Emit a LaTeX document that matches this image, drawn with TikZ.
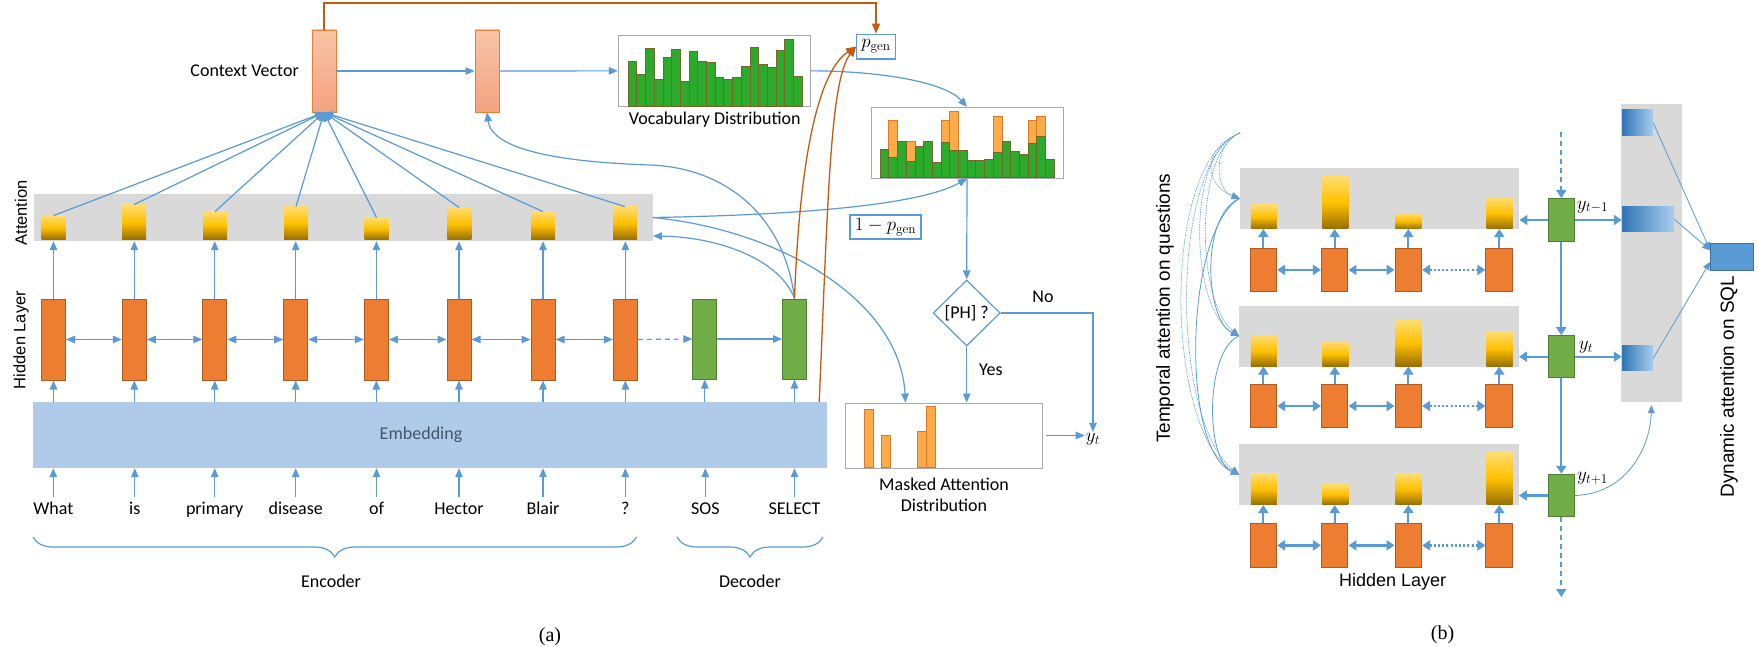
\RequirePackage{fix-cm}
\documentclass[tikz,border=0pt]{standalone}
\usepackage[no-math]{fontspec}
\setmainfont{Carlito}
\newfontfamily\arialf{Liberation Sans}
\newfontfamily\capf{Liberation Serif}
\usetikzlibrary{arrows.meta,shapes.geometric,decorations.pathreplacing}
\definecolor{lblue}{RGB}{91,155,213}
\definecolor{oF}{RGB}{237,125,49}
\definecolor{oD}{RGB}{174,90,33}
\definecolor{gF}{RGB}{112,173,71}
\definecolor{gD}{RGB}{80,126,50}
\definecolor{brn}{RGB}{197,90,17}
\definecolor{gband}{RGB}{217,217,217}
\definecolor{embc}{RGB}{176,203,233}
\definecolor{embt}{RGB}{68,84,106}
\definecolor{peT}{RGB}{248,196,168}
\definecolor{peB}{RGB}{244,162,128}
\definecolor{peD}{RGB}{237,125,49}
\definecolor{yT}{RGB}{255,220,110}
\definecolor{yM}{RGB}{255,192,0}
\definecolor{yB}{RGB}{150,110,0}
\definecolor{vG}{RGB}{44,170,44}
\definecolor{vGd}{RGB}{120,100,40}
\definecolor{vO}{RGB}{251,172,72}
\definecolor{vOd}{RGB}{220,120,40}
\definecolor{sqD}{RGB}{46,117,182}
\definecolor{sqL}{RGB}{170,205,238}
\definecolor{sqF}{RGB}{91,155,213}
\definecolor{sqE}{RGB}{65,113,156}
\definecolor{dgray}{RGB}{170,170,170}
\begin{document}
\begin{tikzpicture}[x=1pt,y=-1pt,
  ln/.style={draw=lblue, line width=1.2pt},
  arr/.style={ln, -{Triangle[length=9pt,width=7.5pt]}},
  arrb/.style={ln, {Triangle[length=9pt,width=7.5pt]}-{Triangle[length=9pt,width=7.5pt]}},
  oarr/.style={draw=brn, line width=1.3pt, -{Triangle[length=10pt,width=8pt]}},
  tarr/.style={draw=lblue, line width=0.8pt, -{Triangle[length=8pt,width=7pt]}},
  tdot/.style={tarr, line width=0.6pt, dash pattern=on 1.5pt off 1pt},
  barr/.style={draw=lblue, line width=2.2pt, -{Triangle[length=8pt,width=10pt]}},
  barrb/.style={draw=lblue, line width=2.2pt, {Triangle[length=8pt,width=10pt]}-{Triangle[length=8pt,width=10pt]}},
  obox/.style={fill=oF, draw=oD, line width=1pt, minimum width=24pt, minimum height=81pt, inner sep=0pt},
  gbox/.style={fill=gF, draw=gD, line width=1pt, minimum width=24pt, minimum height=80pt, inner sep=0pt},
  kbox/.style={fill=oF, draw=oD, line width=1pt, minimum width=26.5pt, minimum height=43.5pt, inner sep=0pt},
  pbox/.style={top color=peT, bottom color=peB, draw=peD, line width=0.8pt, minimum width=24pt, minimum height=82pt, inner sep=0pt},
  abar/.style={top color=yT, bottom color=yB, middle color=yM, draw=none, minimum width=24pt, inner sep=0pt, anchor=south},
  kbar/.style={top color=yT, bottom color=yB, middle color=yM, draw=none, minimum width=26pt, inner sep=0pt, anchor=south},
  vbar/.style={fill=vG, draw=vGd, line width=0.5pt},
  obar/.style={fill=vO, draw=vOd, line width=0.5pt},
  lab/.style={font=\fontsize{18}{21}\selectfont, inner sep=1pt},
  mth/.style={font=\fontsize{19}{22}\selectfont, inner sep=1pt},
  vlab/.style={font=\arialf\fontsize{16.5}{19}\selectfont, rotate=90, inner sep=0pt},
  blab/.style={font=\arialf\fontsize{19}{22}\selectfont, inner sep=0pt},
  band/.style={fill=gband, inner sep=0pt},
  dist/.style={draw=dgray, fill=white, line width=0.8pt, inner sep=0pt}
]
\useasboundingbox (0,0) rectangle (1758,647);
\fill[white] (0,0) rectangle (1758,647);

% ================= panel (a) =================
\node[band, minimum width=619pt, minimum height=47pt] (band) at (343.2,217.5) {};
\node[vlab] (attl) at (21,213) {Attention};
\node[vlab] (hidl) at (21,340) {Hidden Layer};

\foreach \x/\t [count=\i] in {53.5/216,134/205,215/212,296/207,376.5/218,459.3/208,543/212,625/207}
  \node[abar, minimum height={240-\t}] (b\i) at (\x,240) {};

\foreach \x [count=\i] in {53.5,134.3,214.8,295.7,376.4,459,543,625.4}
  \node[obox] (h\i) at (\x,339.5) {};
\node[gbox] (d1) at (704.8,339) {};
\node[gbox] (d2) at (794.5,339) {};

\node[fill=embc, minimum width=794pt, minimum height=66pt, inner sep=0pt] (emb) at (430,435) {};
\node[font=\fontsize{18}{21}\selectfont, text=embt] (embl) at (421,435) {Embedding};

\foreach \x/\w [count=\i] in {53.3/What,134.8/is,214.7/primary,295.7/disease,376.6/of,459/Hector,543/Blair,625.3/?,705.3/SOS,794.5/SELECT}
  \node[lab, anchor=base] (w\i) at (\x,514) {\w};
\foreach \i in {1,...,10}
  \draw[arr] (w\i.center |- 0,497) -- (w\i.center |- emb.south);
\foreach \i in {1,...,8} {
  \draw[arr] (h\i.south |- emb.north) -- (h\i.south);
  \draw[arr] (h\i.north) -- (h\i.north |- band.south);
}
\draw[arr] (d1.south |- emb.north) -- (d1.south);
\draw[arr] (d2.south |- emb.north) -- (d2.south);
\foreach \i/\j in {1/2,2/3,3/4,4/5,5/6,6/7,7/8}
  \draw[arrb] (h\i.east) -- (h\j.west);
\draw[arr, dash pattern=on 5pt off 4pt] (h8.east) -- (d1.west);
\draw[arr] (d1.east) -- (d2.west);

% context vectors
\node[pbox] (cv) at (324,71) {};
\node[pbox] (cv2) at (487,71) {};
\node[lab, anchor=east] (cvl) at (300,71) {Context Vector};
\draw[arr] (cv.east) -- (cv2.west);
\foreach \i in {1,...,8}
  \draw[arr] (b\i.north) -- (cv.south);

% vocabulary distribution
\node[dist, minimum width=192.5pt, minimum height=71.7pt] (vd) at (714.5,70.85) {};
\foreach \t [count=\k] in {61,74.3,48.7,79.7,57.3,49.3,81,51,61.7,62.7,77.7,79,77,66.3,47.7,64.3,67.7,50.7,39,76}
  \draw[vbar] ({628+8.7*(\k-1)},106) rectangle ({628+8.7*\k},\t);
\node[lab] (vdl) at (714.7,120) {Vocabulary Distribution};
\draw[arr] (cv2.east) -- (vd.west);

% mixed distribution
\node[dist, minimum width=192pt, minimum height=71pt] (md) at (967,142.75) {};
\foreach \k/\o/\g in {2/120.7/157.7,4/141/161,8/120/142.7,9/111/150,14/116.7/152.7,18/120/143.3,19/116/136}
  \draw[obar] ({880+8.7*(\k-1)},\g) rectangle ({880+8.7*\k},\o);
\foreach \t [count=\k] in {149.3,157.7,141,161,146.7,141.7,162.3,142.7,150,150.7,160,160.7,159.3,152.7,141,151.4,154,143.3,136,159}
  \draw[vbar] ({880+8.7*(\k-1)},177.5) rectangle ({880+8.7*\k},\t);

% p_gen boxes
\node[draw=lblue, line width=1.2pt, minimum width=38.6pt, minimum height=24.7pt, inner sep=0pt, font=\fontsize{19}{22}\selectfont] (pg) at (876,46.6) {$p_{\mathrm{gen}}$};
\node[draw=lblue, line width=1.2pt, minimum width=71pt, minimum height=24pt, inner sep=0pt, font=\fontsize{19}{22}\selectfont] (omp) at (885.5,227) {$1-p_{\mathrm{gen}}$};

% decision
\node[draw=lblue, line width=1.2pt, diamond, aspect=1, minimum width=67pt, minimum height=66pt, fill=white, font=\fontsize{18}{21}\selectfont, inner sep=0pt] (ph) at (966.7,313) {[PH] ?};

% masked attention distribution
\node[dist, minimum width=197pt, minimum height=65pt] (ma) at (943.5,435.5) {};
\foreach \k/\t in {2/409.3,4/435.7,8/431,9/406}
  \draw[obar] ({855+8.9*(\k-1)},467.5) rectangle ({855+8.9*\k},\t);
\node[lab, align=center] (mal) at (944,494.5) {Masked Attention\\Distribution};

\node[mth] (yt) at (1093,439) {$y_t$};
\draw[arr, shorten <=4pt] (ma.east) -- (ma.east -| yt.west);
\draw[arr] (md.south) -- (ph.north);
\draw[arr] (ph.south) -- (ph.south |- ma.north);
\draw[arr] (ph.east) -| (yt.north);
\node[lab] (nol) at (1043,297) {No};
\node[lab, anchor=west] (yesl) at (978,370) {Yes};

% curves
\draw[arr] (d2.north) .. controls (785,220) and (730,168) .. (650,165) .. controls (560,162) and (492,150) .. (cv2.south);
\draw[arr] (d2.north) .. controls (780,260) and (720,237) .. ([yshift=-18.5pt]band.east);
\draw[arr] (band.east) .. controls (800,215) and (920,205) .. (md.south);
\draw[arr] (band.east) .. controls (780,230) and (900,300) .. ([xshift=-38pt]ma.north);
\draw[arr] (vd.east) .. controls (880,71) and (945,82) .. (md.north);

% orange connectors
\draw[oarr] (cv.north) -- (cv.north |- 0,3) -| (pg.north);
\draw[oarr] (d2.north) .. controls (800,150) and (820,70) .. (pg.west);
\draw[oarr] ([xshift=-8pt]emb.north east) .. controls (828,200) and (830,80) .. (pg.west);

% braces
\draw[ln, decorate, decoration={brace, mirror, amplitude=20pt}] (33,537) -- (636.5,537);
\draw[ln, decorate, decoration={brace, mirror, amplitude=20pt}] (677,537) -- (823,537);
\node[lab] (encl) at (331,581) {Encoder};
\node[lab] (decl) at (750,581) {Decoder};
\node[font=\capf\fontsize{20}{24}\selectfont, inner sep=0pt] (capa) at (550,637) {(a)};

% ================= panel (b) =================
\node[band, minimum width=279.5pt, minimum height=61pt] (q1) at (1379.5,198.5) {};
\node[band, minimum width=279.5pt, minimum height=61pt] (q2) at (1379,336) {};
\node[band, minimum width=279.5pt, minimum height=61pt] (q3) at (1379,474.5) {};

\foreach \x/\t [count=\c] in {1263.8/205,1335.3/176.7,1408.4/213.3,1499.7/198.3}
  \node[kbar, minimum height={229-\t}] (a1\c) at (\x,229) {};
\foreach \x/\t [count=\c] in {1263.8/336,1335.3/342.3,1408.4/320.7,1499.7/331.7}
  \node[kbar, minimum height={366.5-\t}] (a2\c) at (\x,366.5) {};
\foreach \x/\t [count=\c] in {1263.8/474,1335.3/484.3,1408.4/474,1499.7/452.7}
  \node[kbar, minimum height={505-\t}] (a3\c) at (\x,505) {};

\foreach \r/\y in {1/269.9,2/406,3/545.4} {
  \foreach \x [count=\c] in {1263.3,1334.7,1408.3,1499.2}
    \node[kbox] (k\r\c) at (\x,\y) {};
}
\foreach \r in {1,2,3} {
  \foreach \c in {1,2,3,4}
    \draw[barr] (k\r\c.north) -- (k\r\c.north |- a\r\c.south);
  \draw[barrb] (k\r1.east) -- (k\r2.west);
  \draw[barrb] (k\r2.east) -- (k\r3.west);
  \draw[barrb, dash pattern=on 2pt off 2.2pt] (k\r3.east) -- (k\r4.west);
}

% decoder states
\node[fill=gF, draw=gD, line width=1pt, minimum width=26pt, minimum height=43pt, inner sep=0pt] (g1) at (1561.3,220) {};
\node[fill=gF, draw=gD, line width=1pt, minimum width=26pt, minimum height=42pt, inner sep=0pt] (g2) at (1561.3,356.7) {};
\node[fill=gF, draw=gD, line width=1pt, minimum width=26pt, minimum height=42.4pt, inner sep=0pt] (g3) at (1561.3,495.5) {};
\coordinate (gtop) at (1561.3,131.7);
\coordinate (gbot) at (1561.3,597);
\draw[barr, dash pattern=on 5pt off 4pt] (gtop) -- (g1.north);
\draw[barr] (g1.south) -- (g2.north);
\draw[barr] (g2.south) -- (g3.north);
\draw[barr, dash pattern=on 5pt off 4pt] (g3.south) -- (gbot);
\draw[barr] (g1.west) -- (g1.west -| q1.east);
\draw[barr] (g2.west) -- (g2.west -| q2.east);
\draw[barr] (g3.west) -- (g3.west -| q3.east);
\node[mth] (lt1) at (1592.5,207) {$y_{t-1}$};
\node[mth] (lt2) at (1586,347) {$y_t$};
\node[mth] (lt3) at (1592.5,478.5) {$y_{t+1}$};

% SQL attention
\node[band, minimum width=61pt, minimum height=298pt] (sqb) at (1651.5,253) {};
\node[left color=sqD, right color=sqL, minimum width=31pt, minimum height=25.7pt, inner sep=0pt] (s1) at (1637.5,122.85) {};
\node[left color=sqD, right color=sqL, minimum width=52pt, minimum height=25pt, inner sep=0pt] (s2) at (1648,219.2) {};
\node[left color=sqD, right color=sqL, minimum width=31pt, minimum height=25pt, inner sep=0pt] (s3) at (1637.5,358.2) {};
\node[fill=sqF, draw=sqE, line width=1pt, minimum width=42.6pt, minimum height=26.7pt, inner sep=0pt] (sql) at (1732,257.3) {};
\draw[barr] (g1.east) -- (g1.east -| s2.west);
\draw[barr] (g2.east) -- (g2.east -| s3.west);
\draw[tarr] (s1.east) -- ([yshift=7pt]sql.west);
\draw[tarr] (s2.east) -- ([yshift=7pt]sql.west);
\draw[tarr] (s3.east) -- ([yshift=-4.5pt]sql.west);
\draw[tarr] (g3.east) .. controls (1625,494) and (1650,450) .. ([yshift=-3pt]sqb.south);

% temporal attention
\coordinate (tp) at (1240,133);
\draw[tdot] (tp) .. controls (1212,145) and (1215,190) .. (q1.west);
\draw[tdot] (tp) .. controls (1200,150) and (1205,185) .. (q1.west);
\draw[tdot] (tp) .. controls (1195,150) and (1195,300) .. (q2.west);
\draw[tdot] (tp) .. controls (1185,150) and (1190,310) .. (q2.west);
\draw[tdot] (tp) .. controls (1170,160) and (1170,420) .. (q3.west);
\draw[tdot] (tp) .. controls (1160,160) and (1165,430) .. (q3.west);
\draw[tarr] (q1.west) .. controls (1200,215) and (1205,320) .. (q2.west);
\draw[tarr] (q1.west) .. controls (1185,230) and (1180,450) .. (q3.west);
\draw[tarr] (q2.west) .. controls (1205,350) and (1205,460) .. (q3.west);

\node[blab, rotate=90] (tmp) at (1165,308.3) {Temporal attention on questions};
\node[blab, rotate=90] (dyn) at (1729,386.7) {Dynamic attention on SQL};
\node[font=\arialf\fontsize{18}{21}\selectfont, inner sep=0pt] (hl2) at (1392.7,582) {Hidden Layer};
\node[font=\capf\fontsize{20}{24}\selectfont, inner sep=0pt] (capb) at (1442.5,635) {(b)};
\end{tikzpicture}
\end{document}
